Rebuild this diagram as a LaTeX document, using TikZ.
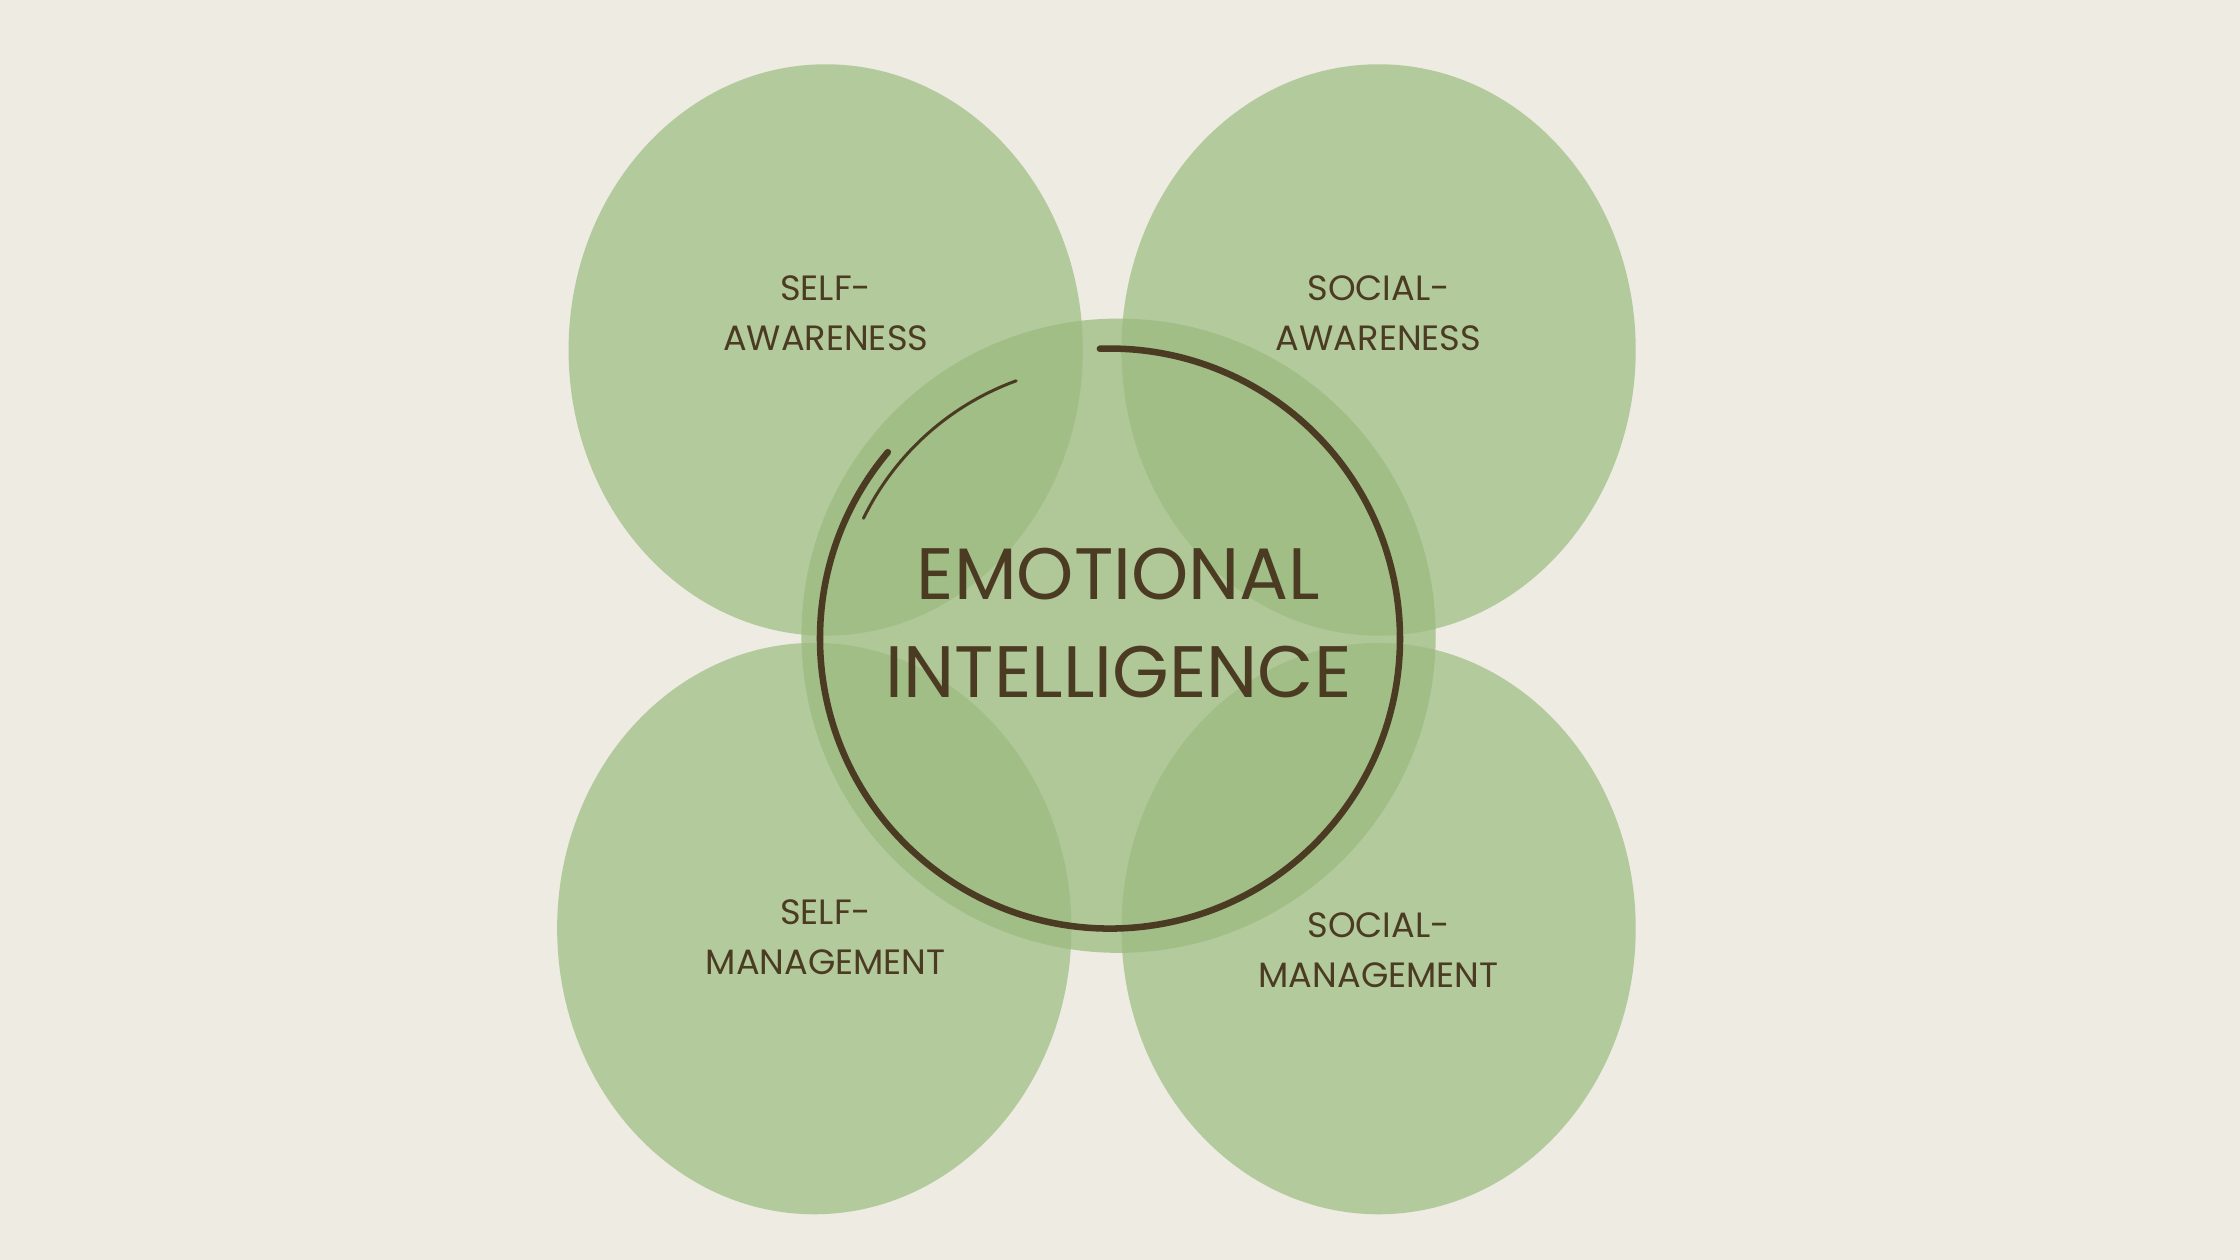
\documentclass[tikz,border=0pt]{standalone}
\usepackage{fontspec}
\setmainfont{Poppins}
\definecolor{bgcol}{HTML}{EDEBE2}
\definecolor{leaf}{HTML}{B3CA9C}
\definecolor{core}{HTML}{9CBB7F}
\definecolor{ink}{HTML}{4A3B22}
\tikzset{
  petal/.style={fill=leaf},
  label/.style={align=center,text=ink,font=\fontsize{7}{10}\selectfont},
}
\begin{document}
\begin{tikzpicture}[x=0.01cm,y=-0.01cm]
  \fill[bgcol] (0,0) rectangle (1568,882);
  \useasboundingbox (0,0) rectangle (1568,882);

  % Petals
  \fill[petal] (578,245) ellipse [x radius=180,y radius=200];
  \fill[petal] (965,245) ellipse [x radius=180,y radius=200];
  \fill[petal] (570,650) ellipse [x radius=180,y radius=200];
  \fill[petal] (965,650) ellipse [x radius=180,y radius=200];

  % Core circle
  \fill[core,opacity=0.75] (783,445) circle [radius=222];

  % Brush ring
  \draw[ink,line width=1.3pt,line cap=round]
    (777,447) ++(-140:203) arc [start angle=-140,end angle=-452,radius=203];
  \draw[ink,line width=0.6pt,line cap=round]
    (777,447) ++(-154:192) arc [start angle=-154,end angle=-110,radius=192];

  \node[label] (selfaw) at (578,219) {SELF-\\AWARENESS};
  \node[label] (socaw) at (965,219) {SOCIAL-\\AWARENESS};
  \node[label] (selfmg) at (578,656) {SELF-\\MANAGEMENT};
  \node[label] (socmg) at (965,665) {SOCIAL-\\MANAGEMENT};
  \node[label,font=\fontsize{14.5}{19.5}\selectfont] (ei) at (783,436) {EMOTIONAL\\INTELLIGENCE};
\end{tikzpicture}
\end{document}
